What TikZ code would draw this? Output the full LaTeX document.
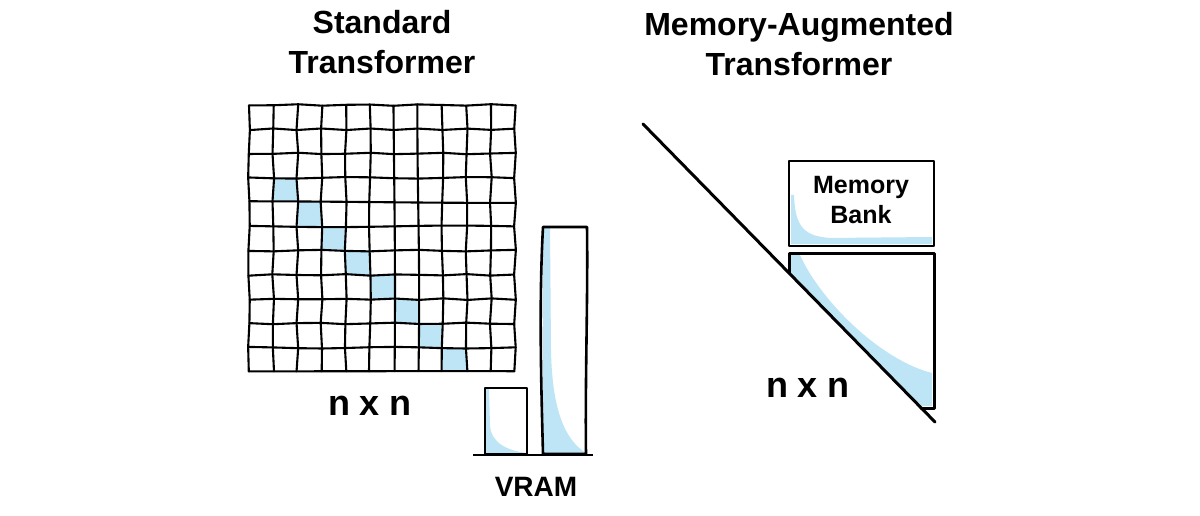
\documentclass[tikz,border=0pt]{standalone}
\usepackage{fontspec}
\setmainfont{Liberation Sans}
\begin{document}
\begin{tikzpicture}[x=1pt,y=-1pt,
  gridline/.style={line width=2.1pt,line cap=round,line join=round},
  boxline/.style={line width=2.6pt,line join=round},
  heavyline/.style={line width=3pt,line join=round,line cap=round},
  memfill/.style={fill=memblue},
  titletext/.style={font=\bfseries\fontsize{32}{40}\selectfont,align=center,inner sep=0pt},
  labeltext/.style={font=\bfseries\fontsize{36}{40}\selectfont,inner sep=0pt},
  smalltext/.style={font=\bfseries\fontsize{25}{30}\selectfont,align=center,inner sep=0pt}]
\definecolor{memblue}{RGB}{189,229,246}
\useasboundingbox (0,0) rectangle (1200,516);
\fill[white] (0,0) rectangle (1200,516);

% ---------- titles ----------
\node[titletext] (titleL) at (382,42) {Standard\\Transformer};
\node[titletext] (titleR) at (799,44) {Memory-Augmented\\Transformer};

% ---------- attention grid (11 x 11, slightly hand drawn) ----------
\foreach \i in {0,...,11} {
  \foreach \j in {0,...,11} {
    \pgfmathsetmacro\dx{0.9*sin(41*\i*\j+97*\j+37*\i)}
    \pgfmathsetmacro\dy{0.8*sin(53*\i*\j+59*\j+131*\i+30)}
    \coordinate (P-\i-\j) at ({249+24.18*\i+\dx},{105+24.27*\j+\dy});
  }
}
% diagonal blue cells
\foreach \i in {1,...,8} {
  \pgfmathtruncatemacro\ii{\i+1}
  \pgfmathtruncatemacro\j{\i+2}
  \pgfmathtruncatemacro\jj{\i+3}
  \fill[memfill] (P-\i-\j) -- (P-\ii-\j) -- (P-\ii-\jj) -- (P-\i-\jj) -- cycle;
}
\foreach \i in {0,...,11} {
  \draw[gridline] (P-\i-0) \foreach \j in {1,...,11} { -- (P-\i-\j) };
  \draw[gridline] (P-0-\i) \foreach \j in {1,...,11} { -- (P-\j-\i) };
}
\node[labeltext] (nnL) at (370,406) {n x n};

% ---------- VRAM bars ----------
\fill[memfill] (486,389) -- (486,453) -- (526,453)
  .. controls (505,450) and (491,442) .. (490,425) -- (489,389) -- cycle;
\draw[boxline] (485,388) rectangle (527,454);
\fill[memfill] (543,228) -- (543,453) -- (586,453)
  .. controls (565,440) and (552,410) .. (551,350) -- (550,228) -- cycle;
\draw[boxline] (543,227) -- (587,227) .. controls (588,300) and (585,380) .. (586,454)
  -- (543,454) .. controls (541,380) and (539,300) .. (543,227) -- cycle;
\coordinate (baseA) at (473,455);
\coordinate (baseB) at (593,455);
\draw[line width=1.6pt] (baseA) -- (baseB);
\node[font=\bfseries\fontsize{28}{32}\selectfont,inner sep=0pt] (vram) at (536,487) {VRAM};

% ---------- memory-augmented side ----------
\fill[memfill] (791,195) -- (791,244) -- (932,244) -- (932,237) -- (830,238)
  .. controls (805,236) and (795,228) .. (794,195) -- cycle;
\draw[boxline] (789,161) rectangle (934,246);
\node[smalltext] (mem) at (861,200) {Memory\\Bank};

\fill[memfill] (791,255) -- (791,274) -- (921,406) -- (932,406) -- (932,373)
  .. controls (880,360) and (820,300) .. (800,255) -- cycle;
\draw[heavyline] (789,273) -- (789,253) -- (934,253) -- (934,408) -- (921,408);
\coordinate (diagA) at (643,124);
\coordinate (diagB) at (935,422);
\draw[heavyline] (diagA) -- (diagB);
\node[labeltext] (nnR) at (808,388) {n x n};
\end{tikzpicture}
\end{document}
